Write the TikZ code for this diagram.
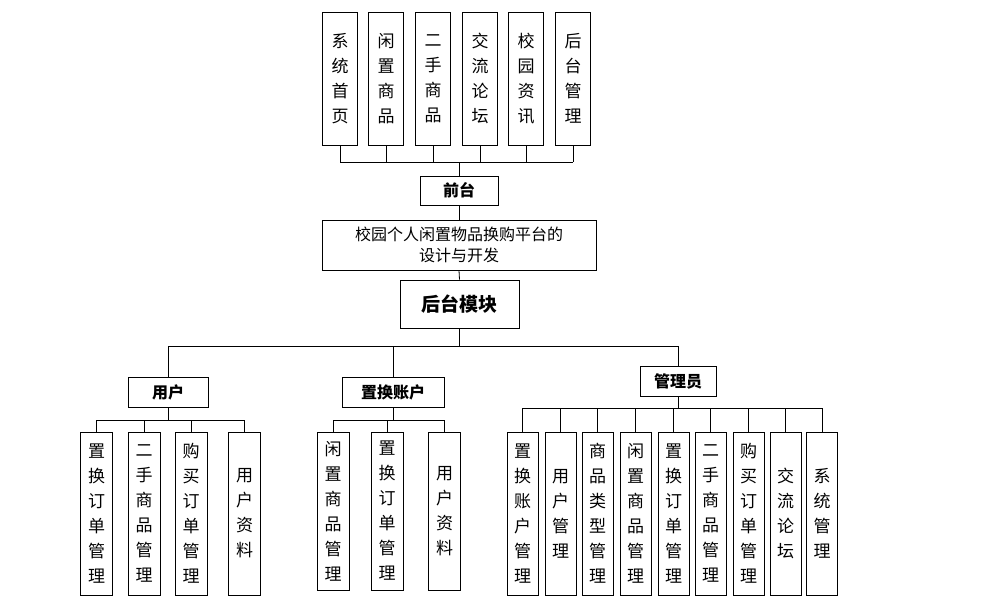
\documentclass[tikz,border=0pt]{standalone}
\usepackage{fontspec}
\setmainfont{Noto Sans CJK SC}
\begin{document}
\begin{tikzpicture}[x=1pt,y=-1pt,
  vb/.style={draw,line width=0.8pt,minimum width=33pt,inner sep=0pt,align=center,font=\fontsize{17}{25}\selectfont},
  hb/.style={draw,line width=0.8pt,inner sep=0pt,align=center,font=\fontsize{16}{20}\selectfont\bfseries},
  ln/.style={line width=0.8pt}]
\useasboundingbox (0,0) rectangle (982,601);
% top
\foreach \n/\x/\t in {t1/340/{系\\统\\首\\页},t2/386/{闲\\置\\商\\品},t3/433/{二\\手\\商\\品},t4/480/{交\\流\\论\\坛},t5/526/{校\\园\\资\\讯},t6/573/{后\\台\\管\\理}}
  \node[vb,minimum width=35pt,minimum height=133pt] (\n) at (\x,78.5) {\t};
\node[hb,minimum width=78pt,minimum height=29pt] (qt) at (459,190.5) {前台};
\node[draw,line width=0.8pt,minimum width=274pt,minimum height=50pt,align=center,inner sep=0pt,font=\fontsize{16}{21}\selectfont] (main) at (459,245) {校园个人闲置物品换购平台的\\设计与开发};
\node[hb,minimum width=119pt,minimum height=48pt,font=\fontsize{19}{22}\selectfont\bfseries] (ht) at (459.5,304) {后台模块};
\coordinate (tb) at (0,162);
\foreach \n in {t1,t2,t3,t4,t5,t6} \draw[ln] (\n.south) -- (\n.south |- tb);
\draw[ln] (t1.south |- tb) -- (t6.south |- tb);
\draw[ln] (qt.north) -- (qt.north |- tb);
\draw[ln] (qt.south) -- (main.north);
\draw[ln] (main.south) -- (ht.north);
% level 2
\node[hb,minimum width=80pt,minimum height=30pt] (yh) at (168,392) {用户};
\node[hb,minimum width=102pt,minimum height=30pt] (zh) at (393,392) {置换账户};
\node[hb,minimum width=76pt,minimum height=30pt] (gl) at (678,381) {管理员};
\coordinate (mb) at (0,346);
\draw[ln] (ht.south) -- (ht.south |- mb);
\draw[ln] (yh.north |- mb) -- (gl.north |- mb);
\foreach \n in {yh,zh,gl} \draw[ln] (\n.north) -- (\n.north |- mb);
% user children
\foreach \n/\x/\t in {a1/96.5/{置\\换\\订\\单\\管\\理},a2/144/{二\\手\\商\\品\\管\\理},a3/191/{购\\买\\订\\单\\管\\理},a4/244.5/{用\\户\\资\\料}}
  \node[vb,minimum width=32pt,minimum height=163pt] (\n) at (\x,513.5) {\t};
\coordinate (ab) at (0,420);
\draw[ln] (yh.south) -- (yh.south |- ab);
\draw[ln] (a1.north |- ab) -- (a4.north |- ab);
\foreach \n in {a1,a2,a3,a4} \draw[ln] (\n.north) -- (\n.north |- ab);
% zh children
\foreach \n/\x/\t in {b1/333/{闲\\置\\商\\品\\管\\理},b2/387/{置\\换\\订\\单\\管\\理},b3/444.5/{用\\户\\资\\料}}
  \node[vb,minimum width=32pt,minimum height=158pt] (\n) at (\x,511) {\t};
\draw[ln] (zh.south) -- (zh.south |- ab);
\draw[ln] (b1.north |- ab) -- (b3.north |- ab);
\foreach \n in {b1,b2,b3} \draw[ln] (\n.north) -- (\n.north |- ab);
% admin children
\foreach \n/\x/\t in {c1/522.5/{置\\换\\账\\户\\管\\理},c2/560.5/{用\\户\\管\\理},c3/597.5/{商\\品\\类\\型\\管\\理},c4/635.5/{闲\\置\\商\\品\\管\\理},c5/673.5/{置\\换\\订\\单\\管\\理},c6/710.5/{二\\手\\商\\品\\管\\理},c7/748.5/{购\\买\\订\\单\\管\\理},c8/785.5/{交\\流\\论\\坛},c9/822/{系\\统\\管\\理}}
  \node[vb,minimum width=31pt,minimum height=163pt] (\n) at (\x,513.5) {\t};
\coordinate (cb) at (0,408);
\draw[ln] (gl.south) -- (gl.south |- cb);
\draw[ln] (c1.north |- cb) -- (c9.north |- cb);
\foreach \n in {c1,c2,c3,c4,c5,c6,c7,c8,c9} \draw[ln] (\n.north) -- (\n.north |- cb);
\end{tikzpicture}
\end{document}
